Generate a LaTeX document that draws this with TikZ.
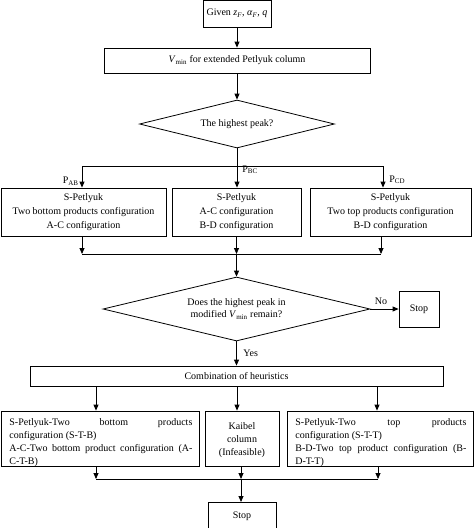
\documentclass[tikz,border=0pt]{standalone}
\usepackage{fontspec}
\setmainfont{Liberation Serif}
\usetikzlibrary{arrows.meta,shapes.geometric}
\begin{document}
\begin{tikzpicture}[x=1pt,y=-1pt,
  font=\fontsize{10}{12}\selectfont,
  line width=0.8pt,
  box/.style={draw, rectangle, inner sep=0pt, align=center},
  dia/.style={draw, diamond, inner sep=0pt, aspect=3, align=center},
  txt/.style={inner sep=0pt},
  arr/.style={-{Triangle[length=6pt,width=5pt]}}
]
\useasboundingbox (0,0) rectangle (474,528);

% top
\node[box, minimum width=68pt, minimum height=27pt] (given) at (237,13.75)
  {Given \textit{z}\textsubscript{\textit{F}}, \textit{α}\textsubscript{\textit{F}}, \textit{q}};
\node[box, minimum width=266pt, minimum height=25pt] (vmin) at (237,60.5)
  {\textit{V}\textsubscript{min} for extended Petlyuk column};
\node[dia, minimum width=195pt, minimum height=48pt] (d1) at (237,124) {The highest peak?};

% row 1
\node[box, minimum width=165pt, minimum height=48pt, font=\fontsize{10}{14}\selectfont] (b1) at (83.5,212)
  {S-Petlyuk\\Two bottom products configuration\\A-C configuration};
\node[box, minimum width=129pt, minimum height=48pt, font=\fontsize{10}{14}\selectfont] (b2) at (236.5,212)
  {S-Petlyuk\\A-C configuration\\B-D configuration};
\node[box, minimum width=161pt, minimum height=48pt, font=\fontsize{10}{14}\selectfont] (b3) at (390.5,212)
  {S-Petlyuk\\Two top products configuration\\B-D configuration};

% decision 2
\node[dia, minimum width=267pt, minimum height=64pt, font=\fontsize{10}{12.5}\selectfont] (d2) at (236.5,309)
  {Does the highest peak in\\modified \textit{V}\textsubscript{min} remain?};
\node[box, minimum width=40pt, minimum height=36pt] (stop1) at (419,309) {Stop};

% combination
\node[box, minimum width=413pt, minimum height=20pt] (comb) at (236.5,376) {Combination of heuristics};

% row 3
\node[box, minimum width=198pt, minimum height=55pt] (c1) at (100,438.5) {};
\node[box, minimum width=74pt, minimum height=55pt] (c2) at (242,438.5) {};
\node[box, minimum width=186pt, minimum height=55pt] (c3) at (380,438.5) {};
\node[txt, text width=183pt, align=justify, anchor=north west, font=\fontsize{10}{13}\selectfont] (c1t) at (9,418)
  {S-Petlyuk-Two\hfill bottom\hfill products\\configuration (S-T-B)\\A-C-Two\hfill bottom\hfill product\hfill configuration\hfill (A-\\C-T-B)};
\node[txt, align=center, font=\fontsize{10}{13}\selectfont] (c2t) at (242,440)
  {Kaibel\\column\\(Infeasible)};
\node[txt, text width=171pt, align=justify, anchor=north west, font=\fontsize{10}{13}\selectfont] (c3t) at (295,418)
  {S-Petlyuk-Two\hfill top\hfill products\\configuration (S-T-T)\\B-D-Two\hfill top\hfill product\hfill configuration\hfill (B-\\D-T-T)};

\node[box, minimum width=68pt, minimum height=30pt, anchor=north] (stop2) at (242,502) {};
\node[txt] (stop2t) at (242,516) {Stop};

% junction coordinates
\coordinate (j1) at (237,166);
\coordinate (j1l) at (82,166);
\coordinate (j1r) at (383,166);
\coordinate (j2) at (236.5,254);
\coordinate (j2l) at (82,254);
\coordinate (j2r) at (381,254);
\coordinate (k1) at (96,386);
\coordinate (k2) at (237,386);
\coordinate (k3) at (377,386);
\coordinate (m1) at (96,466);
\coordinate (m2) at (241,466);
\coordinate (m3) at (378,466);
\coordinate (j3) at (241,479);
\coordinate (j3l) at (96,479);
\coordinate (j3r) at (378,479);

% connectors
\draw[arr] (given.south) -- (vmin.north);
\draw[arr] (vmin.south) -- (d1.north);
\draw (d1.south) -- (j1);
\draw (j1l) -- (j1r);
\draw[arr] (j1l) -- (j1l |- b1.north);
\draw[arr] (j1) -- (j1 |- b2.north);
\draw[arr] (j1r) -- (j1r |- b3.north);

\node[txt, anchor=east] (pab) at (79,181) {P\textsubscript{AB}};
\node[txt, anchor=west] (pbc) at (242,170) {P\textsubscript{BC}};
\node[txt, anchor=west] (pcd) at (389,180) {P\textsubscript{CD}};

\draw[arr] (j2l |- b1.south) -- (j2l);
\draw[arr] (j2 |- b2.south) -- (j2);
\draw[arr] (j2r |- b3.south) -- (j2r);
\draw (j2l) -- (j2r);
\draw[arr] (j2) -- (d2.north);

\draw[arr] (d2.east) -- (stop1.west);
\node[txt] (no) at (381,301) {No};
\draw[arr] (d2.south) -- (comb.north);
\node[txt, anchor=west] (yes) at (243,353) {Yes};

\draw[arr] (k1) -- (k1 |- c1.north);
\draw[arr] (k2) -- (k2 |- c2.north);
\draw[arr] (k3) -- (k3 |- c3.north);

\draw[arr] (m1) -- (j3l);
\draw[arr] (m2) -- (j3);
\draw[arr] (m3) -- (j3r);
\draw (j3l) -- (j3r);
\draw[arr] (j3) -- (j3 |- stop2.north);
\end{tikzpicture}
\end{document}
